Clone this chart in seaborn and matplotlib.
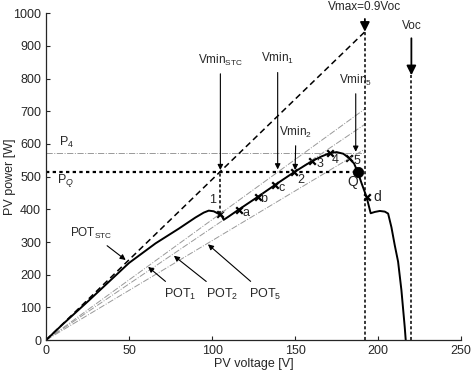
import numpy as np
import pandas as pd
import matplotlib
matplotlib.use("Agg")
import matplotlib.pyplot as plt
import seaborn as sns

# PV power curve (partial shading)
curve_v = [0, 10, 26, 50, 66, 80, 90, 95, 98, 101, 104, 106, 107, 110, 116, 127.5, 138, 149.5,
           160, 166, 171, 175, 179, 182.5, 185.5, 187.7, 190, 193, 195.5, 198, 201, 204, 206,
           208, 210, 212, 214, 216, 216.6]
curve_p = [0, 48, 122, 236, 296, 341, 375, 390, 396, 394, 386, 378, 368, 378, 399, 438, 475, 514,
           547, 562, 572, 575, 570, 557, 540, 514, 480, 438, 388, 392, 395, 393, 387,
           345, 290, 240, 153, 40, 0]

# tracking points
point_names = ['1', 'a', 'b', 'c', '2', '3', '4', '5', 'd']
point_v = [105, 116, 127.5, 138, 149.5, 160, 171, 182.5, 193]
point_p = [385, 399, 438, 475, 514, 547, 572, 557, 438]
q_v = [187.7]
q_p = [514]

# reference levels
p_q = 514
p_4 = 571
v_min_stc = 105
v_max = 192
v_oc = 220
p_stc_end = 943          # POT_STC at Vmax
pot_names = ['POT$_1$', 'POT$_2$', 'POT$_5$']
pot_end = [707, 660, 584]  # power of each POT line at Vmax

sns.set_style("ticks")
plt.rcParams['font.family'] = ['Liberation Sans', 'DejaVu Sans']
plt.rcParams['mathtext.fontset'] = 'custom'
plt.rcParams['mathtext.rm'] = 'Liberation Sans'
plt.rcParams['mathtext.it'] = 'Liberation Sans:italic'
plt.rcParams['xtick.direction'] = 'in'
plt.rcParams['ytick.direction'] = 'in'

fig = plt.figure(figsize=(4.74, 3.75), dpi=100)
ax = fig.add_axes([0.097, 0.093, 0.876, 0.872])


def seg(x, y, **kw):
    # straight segment drawn through seaborn, no aggregation
    sns.lineplot(x=x, y=y, ax=ax, estimator=None, sort=False, **kw)


# gray POT lines and P4 level
for end in pot_end:
    seg([0, v_max], [0, end], color='0.6', lw=0.7, ls='-.')
seg([0, v_max], [p_4, p_4], color='0.6', lw=0.7, ls='-.')

# POT_STC dashed
seg([0, v_max], [0, p_stc_end], color='black', lw=1.1, ls=(0, (4, 2.5)))

# dotted guide lines
seg([0, v_max], [p_q, p_q], color='black', lw=1.6, ls=(0, (1.5, 1.5)))
seg([v_max, v_max], [0, p_stc_end], color='black', lw=1.1, ls=(0, (2, 1.5)))
seg([v_oc, v_oc], [0, 810], color='black', lw=1.1, ls=(0, (2, 1.5)))
seg([v_min_stc, v_min_stc], [point_p[0], p_q], color='black', lw=1.1, ls=(0, (2, 1.5)))

# PV curve
df = pd.DataFrame({'v': curve_v, 'p': curve_p})
sns.lineplot(data=df, x='v', y='p', ax=ax, color='black', lw=1.4, sort=False, estimator=None)

# points
sns.scatterplot(x=point_v, y=point_p, ax=ax, marker='x', s=22, color='black', linewidth=1.6)
sns.scatterplot(x=q_v, y=q_p, ax=ax, marker='o', s=55, color='black', edgecolor='black')

offsets = {'1': (-8, 14), 'a': (7, -3), 'b': (6, -2), 'c': (6, -3), '2': (7, -8),
           '3': (8, -3), '4': (5, -7), '5': (8, -3), 'd': (11, 0)}
for name, v, p in zip(point_names, point_v, point_p):
    ax.annotate(name, (v, p), xytext=offsets[name], textcoords='offset pixels',
                ha='center', va='center', fontsize=10 if name == 'd' else 9)
ax.annotate('Q', (q_v[0], q_p[0]), xytext=(-5, -10), textcoords='offset pixels',
            ha='center', va='center', fontsize=10)

# level labels
ax.text(12.5, 605, 'P$_4$', ha='center', va='center', fontsize=9)
ax.text(11.5, 489, 'P$_Q$', ha='center', va='center', fontsize=9)

small = dict(arrowstyle='-|>', lw=0.8, color='black', mutation_scale=8, shrinkA=2, shrinkB=0)
big = dict(arrowstyle='-|>', lw=1.3, color='black', mutation_scale=14, shrinkA=2, shrinkB=0)

# POT labels
ax.annotate('POT$_{\\mathrm{STC}}$', (48, 245), xytext=(27, 327), ha='center', va='center',
            fontsize=8.5, arrowprops=small)
pot_tips = [(61.5, 224), (77, 258), (97.5, 293)]
pot_text = [(81, 141), (106, 141), (132, 141)]
for name, tip, txt in zip(pot_names, pot_tips, pot_text):
    ax.annotate(name, tip, xytext=txt, ha='center', va='center', fontsize=9, arrowprops=small)

# Vmin labels
ax.annotate('Vmin$_{\\mathrm{STC}}$', (v_min_stc, 520), xytext=(v_min_stc, 856), ha='center',
            va='center', fontsize=8.5, arrowprops=small)
ax.annotate('Vmin$_1$', (139.5, 522), xytext=(139.5, 860), ha='center', va='center',
            fontsize=8.5, arrowprops=small)
ax.annotate('Vmin$_2$', (150, 520), xytext=(150.5, 636), ha='center', va='center',
            fontsize=8.5, arrowprops=small)
ax.annotate('Vmin$_5$', (186.5, 576), xytext=(186.5, 795), ha='center', va='center',
            fontsize=8.5, arrowprops=small)
ax.annotate('Vmax=0.9Voc', (v_max, p_stc_end), xytext=(v_max, 1019), ha='center', va='center',
            fontsize=8.5, arrowprops=big, annotation_clip=False)
ax.annotate('Voc', (v_oc, 810), xytext=(v_oc, 960), ha='center', va='center',
            fontsize=8.5, arrowprops=big)

ax.set_xlim(0, 250)
ax.set_ylim(0, 1000)
ax.set_xticks(np.arange(0, 251, 50))
ax.set_yticks(np.arange(0, 1001, 100))
ax.tick_params(labelsize=9, length=3, width=0.8)
ax.set_xlabel('PV voltage [V]', fontsize=9, labelpad=1)
ax.set_ylabel('PV power [W]', fontsize=9)
ax.yaxis.set_label_coords(-0.072, 0.5)
sns.despine(ax=ax)
for s in ['left', 'bottom']:
    ax.spines[s].set_linewidth(0.9)

fig.savefig('out.png', dpi=100)
